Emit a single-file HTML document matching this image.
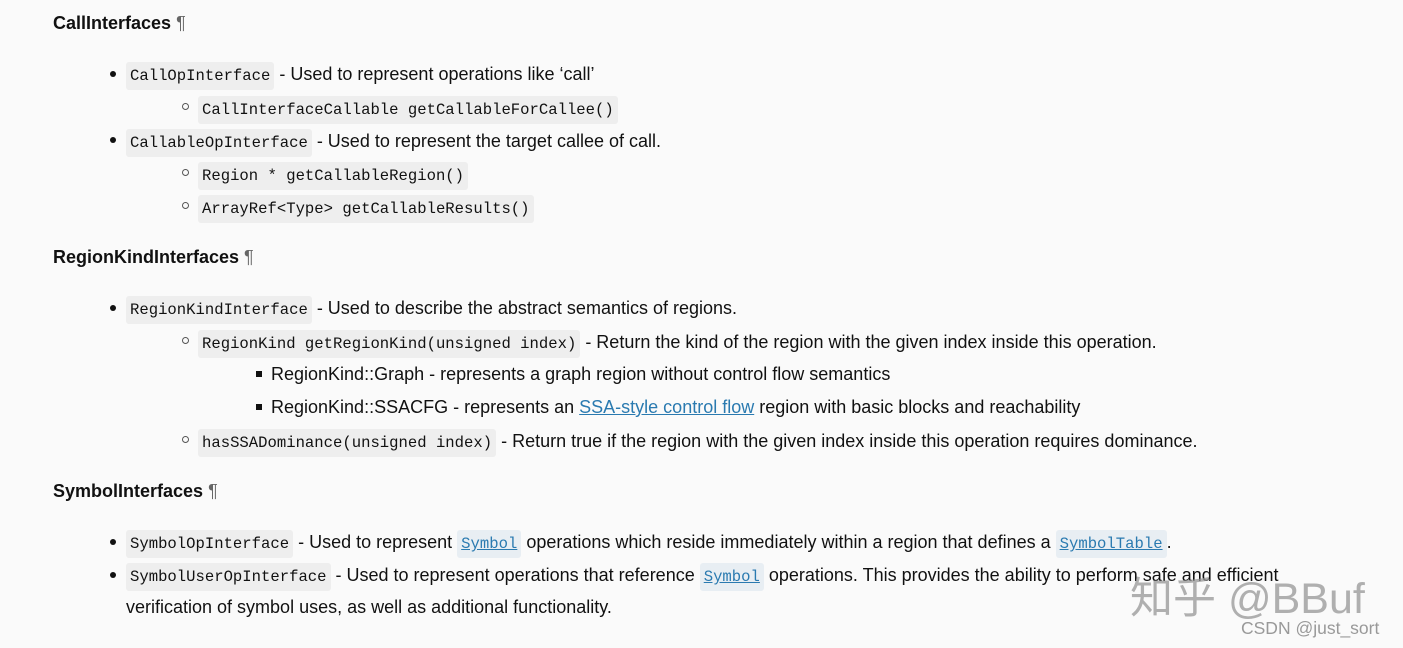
<!DOCTYPE html>
<html><head><meta charset="utf-8"><style>
body{margin:0;width:1403px;height:648px;background:#fafafa;overflow:hidden;position:relative;font-family:"Liberation Sans",sans-serif;font-size:18px;color:#111;}
.l{position:absolute;white-space:nowrap;line-height:26px;}
.p{color:#666;font-weight:normal;}
code{font-family:"Liberation Mono",monospace;font-size:15.6px;background:#eeeeee;padding:5px 4px;border-radius:3px;}
a{color:#2a7ab0;text-decoration:underline;}
a code{color:#2a7ab0;background:#e8eef3;}
.b{position:absolute;width:6px;height:6px;border-radius:50%;background:#111;}
.c{position:absolute;width:5px;height:5px;border-radius:50%;border:1px solid #555;}
.s{position:absolute;width:6px;height:6px;background:#111;}
.wm{position:absolute;color:rgba(150,150,150,0.75);}
</style></head><body>
<div class="l" style="left:53px;top:10px"><b>CallInterfaces</b> <span class="p">¶</span></div>
<div class="b" style="left:110px;top:71px"></div>
<div class="l" style="left:126px;top:61px"><code>CallOpInterface</code> - Used to represent operations like ‘call’</div>
<div class="c" style="left:182px;top:103px"></div>
<div class="l" style="left:198px;top:95px"><code>CallInterfaceCallable getCallableForCallee()</code></div>
<div class="b" style="left:110px;top:137px"></div>
<div class="l" style="left:126px;top:128px"><code>CallableOpInterface</code> - Used to represent the target callee of call.</div>
<div class="c" style="left:182px;top:169px"></div>
<div class="l" style="left:198px;top:161px"><code>Region * getCallableRegion()</code></div>
<div class="c" style="left:182px;top:202px"></div>
<div class="l" style="left:198px;top:194px"><code>ArrayRef&lt;Type&gt; getCallableResults()</code></div>

<div class="l" style="left:53px;top:244px"><b>RegionKindInterfaces</b> <span class="p">¶</span></div>
<div class="b" style="left:110px;top:305px"></div>
<div class="l" style="left:126px;top:295px"><code>RegionKindInterface</code> - Used to describe the abstract semantics of regions.</div>
<div class="c" style="left:182px;top:337px"></div>
<div class="l" style="left:198px;top:329px"><code>RegionKind getRegionKind(unsigned index)</code> - Return the kind of the region with the given index inside this operation.</div>
<div class="s" style="left:256px;top:371px"></div>
<div class="l" style="left:271px;top:361px">RegionKind::Graph - represents a graph region without control flow semantics</div>
<div class="s" style="left:256px;top:404px"></div>
<div class="l" style="left:271px;top:394px">RegionKind::SSACFG - represents an <a>SSA-style control flow</a> region with basic blocks and reachability</div>
<div class="c" style="left:182px;top:436px"></div>
<div class="l" style="left:198px;top:428px"><code>hasSSADominance(unsigned index)</code> - Return true if the region with the given index inside this operation requires dominance.</div>

<div class="l" style="left:53px;top:478px"><b>SymbolInterfaces</b> <span class="p">¶</span></div>
<div class="b" style="left:110px;top:539px"></div>
<div class="l" style="left:126px;top:529px"><code>SymbolOpInterface</code> - Used to represent <a><code>Symbol</code></a> operations which reside immediately within a region that defines a <a><code>SymbolTable</code></a>.</div>
<div class="b" style="left:110px;top:572px"></div>
<div class="l" style="left:126px;top:562px"><code>SymbolUserOpInterface</code> - Used to represent operations that reference <a><code>Symbol</code></a> operations. This provides the ability to perform safe and efficient</div>
<div class="l" style="left:126px;top:594px">verification of symbol uses, as well as additional functionality.</div>

<div class="wm" style="left:1130px;top:564px;font-size:43px;font-family:'Liberation Sans','Noto Sans CJK SC',sans-serif;">知乎 @BBuf</div>
<div class="wm" style="left:1241px;top:618px;font-size:17.5px;color:#999;">CSDN @just_sort</div>
</body></html>
